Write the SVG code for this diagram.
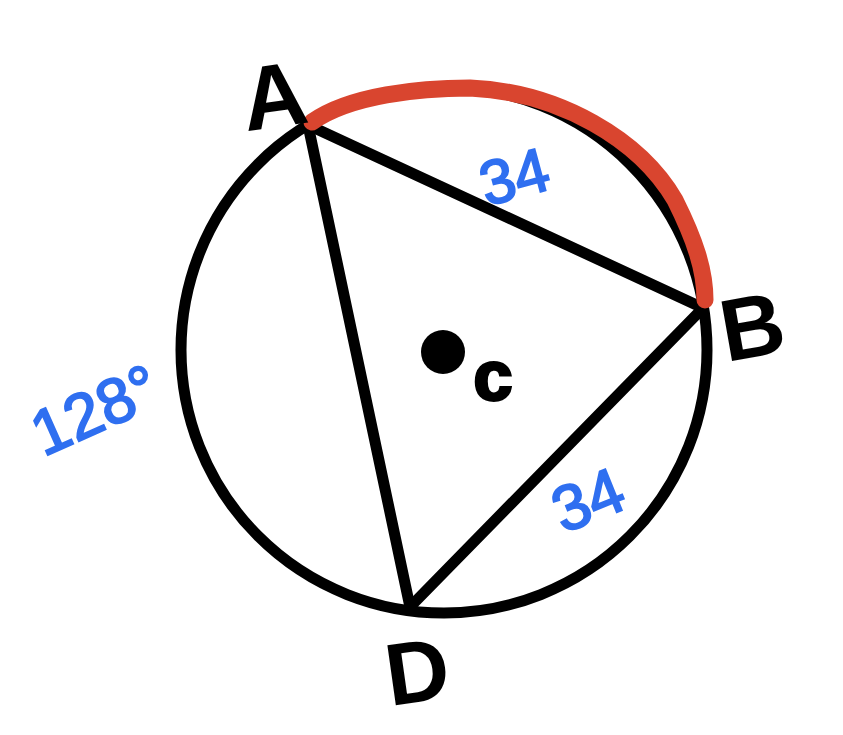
<svg xmlns="http://www.w3.org/2000/svg" width="843" height="735" viewBox="0 0 843 735">
<style>
.ln{fill:none;stroke:#000;stroke-width:11;stroke-linecap:round;stroke-linejoin:round}
.lbl{font-family:"Liberation Sans",Arial,sans-serif;font-weight:bold;fill:#000;text-anchor:middle}
.blue{font-family:"Liberation Sans",Arial,sans-serif;fill:#2f6ff0;text-anchor:middle;stroke:#2f6ff0;stroke-width:2}
</style>
<rect width="843" height="735" fill="#fff"/>
<g id="circle"><circle cx="444" cy="350" r="263" class="ln" stroke-width="12"/></g>
<g id="connectors">
<path class="ln" d="M308,125 L703,308"/>
<path class="ln" d="M703,308 L410,607"/>
<path class="ln" d="M308,125 L410,607"/>
<path d="M312,122 C350,95 420,88 470,88 C560,92 640,140 675,200 C695,240 705,270 705,300" fill="none" stroke="#d9452f" stroke-width="17" stroke-linecap="round"/>
</g>
<g id="center"><circle cx="443" cy="352" r="22" fill="#000"/>
<text class="lbl" x="493" y="400" font-size="70" font-weight="normal" stroke="#000" stroke-width="3">c</text></g>
<g id="A"><text class="lbl" x="274" y="127" font-size="90" transform="rotate(-8 274 95)">A</text></g>
<g id="B"><text class="lbl" x="752" y="357" font-size="88" transform="rotate(-10 752 325)">B</text></g>
<g id="D"><text class="lbl" x="417" y="702" font-size="88" transform="rotate(-8 417 670)">D</text></g>
<g id="lab1"><text class="blue" x="514" y="198" font-size="62" transform="rotate(-15 514 176)">34</text></g>
<g id="lab2"><text class="blue" x="588" y="522" font-size="64" transform="rotate(-22 588 500)">34</text></g>
<g id="lab3"><text class="blue" x="95" y="432" font-size="64" transform="rotate(-24 95 410)">128°</text></g>
</svg>
